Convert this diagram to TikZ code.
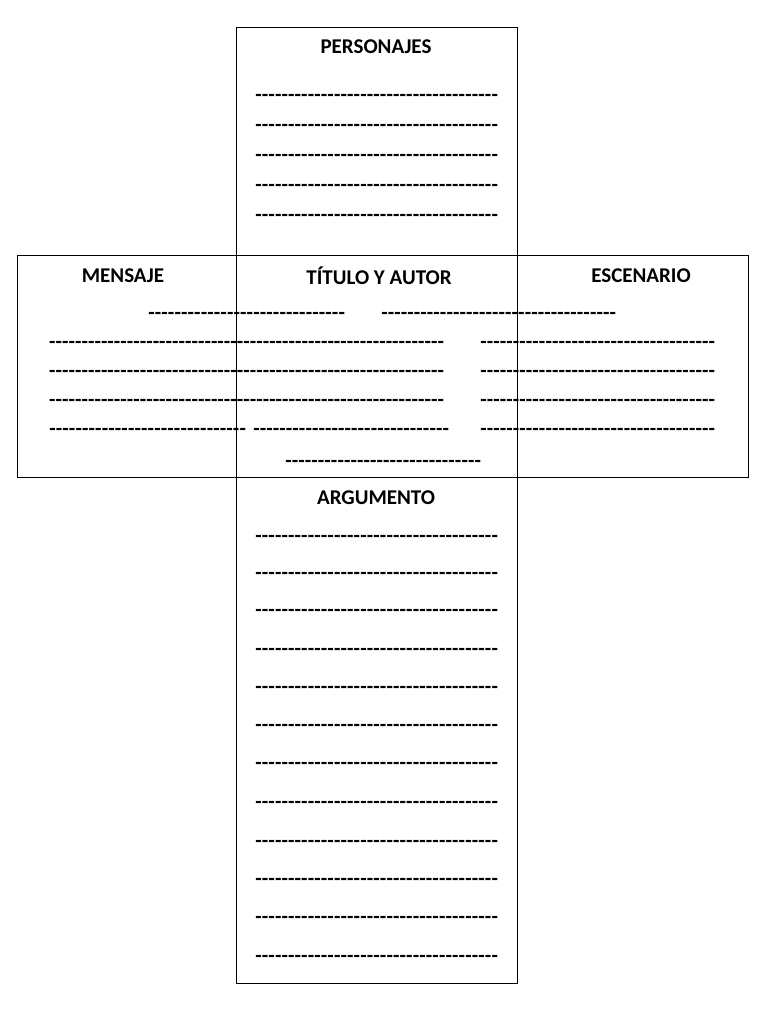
\documentclass[tikz,border=0pt]{standalone}
\usepackage{fontspec}
\setmainfont{Carlito}
\begin{document}
\begin{tikzpicture}[x=1pt,y=-1pt,
  ttl/.style={font=\bfseries\fontsize{21}{24}\selectfont,inner sep=0pt},
  dl/.style={font=\bfseries\fontsize{21}{24}\selectfont,inner sep=0pt,anchor=west}]
\newcommand{\dsh}[1]{\hbox to #1pt{\xleaders\hbox{-}\hfill}}
\fill[white] (0,0) rectangle (768,1024);
\draw[line width=0.8pt] (236,27) rectangle (517,983);
\draw[line width=0.8pt] (17,255) rectangle (748,477);
\node[ttl] (p) at (376,47) {PERSONAJES};
\node[ttl] (m) at (123,276) {MENSAJE};
\node[ttl] (t) at (379,276) {TÍTULO Y AUTOR};
\node[ttl] (e) at (641,276) {ESCENARIO};
\node[ttl] (a) at (376,498) {ARGUMENTO};
\foreach \y [count=\i] in {98,128,158,188,218} \node[dl] (pl\i) at (255,\y) {\dsh{243}};
\node[dl] (t1) at (148,316) {\dsh{197}};
\node[dl] (t2) at (381,316) {\dsh{235}};
\foreach \y [count=\i] in {345,374,403} {
  \node[dl] (ml\i) at (49,\y) {\dsh{395}};
  \node[dl] (el\i) at (480,\y) {\dsh{235}};}
\node[dl] (ml4) at (49,432) {\dsh{197}};
\node[dl] (tl4) at (253,432) {\dsh{196}};
\node[dl] (el4) at (480,432) {\dsh{235}};
\node[dl] (b1) at (285,464) {\dsh{196}};
\foreach \y [count=\i] in {539,576,613,652,690,728,766,805,844,882,920,959} \node[dl] (al\i) at (255,\y) {\dsh{243}};
\end{tikzpicture}
\end{document}
